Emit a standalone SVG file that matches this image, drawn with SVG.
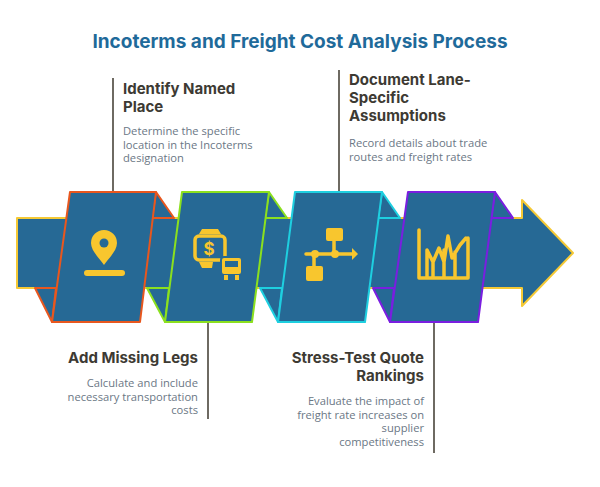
<svg xmlns="http://www.w3.org/2000/svg" width="600" height="487" viewBox="0 0 600 487">
<style>
.p{fill:#266995;stroke-width:2;stroke-linejoin:round}
.t{font-family:Inter,"Open Sans",sans-serif;font-weight:700;font-size:15px;fill:#3d3a33}
.d{font-family:"Open Sans",Inter,sans-serif;font-size:11.2px;fill:#6b7785}
.ln{stroke:#6e6a62;stroke-width:2}
.ic{fill:#f8c62e}
.is{fill:none;stroke:#f8c62e;stroke-width:3.5;stroke-linecap:round;stroke-linejoin:round}
</style>
<rect width="600" height="487" fill="#fff"/>
<text x="300" y="48" text-anchor="middle" font-family="Inter,'Open Sans',sans-serif" font-weight="700" font-size="19" fill="#1f6a9a">Incoterms and Freight Cost Analysis Process</text>
<g id="band">
<path class="p" stroke="#f5c935" d="M17 218 H522 V200 L573 253 L522 306 V288 H17 Z"/>
</g>
<g id="connectors">
<line class="ln" x1="113" y1="78" x2="113" y2="192"/>
<line class="ln" x1="339" y1="70" x2="339" y2="192"/>
<line class="ln" x1="208" y1="322" x2="208" y2="419"/>
<line class="ln" x1="434" y1="322" x2="434" y2="453"/>
</g>
<g id="step1">
<path class="p" stroke="#e8571e" d="M156 192 L174 218 H152 Z M35 288 L52 322 L56 288 Z"/>
<path class="p" stroke="#e8571e" d="M70 192 H156 L140 322 H52 Z"/>
<path class="ic" d="M104 230 a13 13 0 0 1 13 13 c0 8 -9 16 -13 22 c-4 -6 -13 -14 -13 -22 a13 13 0 0 1 13 -13 Z"/>
<circle cx="104" cy="243" r="4.5" fill="#266995"/>
<rect x="84" y="270" width="41" height="6" rx="3" class="ic"/>
</g>
<g id="step2">
<path class="p" stroke="#8be01e" d="M269 192 L287 218 H265 Z M147 288 L165 322 L169 288 Z"/>
<path class="p" stroke="#8be01e" d="M182 192 H269 L252 322 H165 Z"/>
<rect x="195" y="236" width="30" height="24" rx="4" class="is"/>
<path class="ic" d="M202 229 H218 L221 234 H199 Z M199 262 H213 L212 268 H202 Z"/>
<text x="209" y="255" text-anchor="middle" font-family="Inter,sans-serif" font-weight="700" font-size="17" fill="#f8c62e">$</text>
<rect x="221" y="257" width="21" height="18" rx="3" class="ic" stroke="#266995" stroke-width="2"/>
<rect x="225" y="261" width="13" height="6" fill="#266995"/>
<rect x="224" y="275" width="4" height="5" class="ic"/><rect x="235" y="275" width="4" height="5" class="ic"/>
</g>
<g id="step3">
<path class="p" stroke="#1ecfe0" d="M382 192 L400 218 H378 Z M260 288 L278 322 L282 288 Z"/>
<path class="p" stroke="#1ecfe0" d="M295 192 H382 L365 322 H278 Z"/>
<rect x="326" y="228" width="17" height="13" rx="2" class="ic"/>
<rect x="306" y="266" width="17" height="15" rx="2" class="ic"/>
<path class="is" d="M306 254 H354 M334 241 V254 M314 254 V266"/>
<circle cx="315" cy="254" r="4" class="ic"/><circle cx="335" cy="254" r="4" class="ic"/>
<path class="ic" d="M352 248 L358 254 L352 260 Z"/>
</g>
<g id="step4">
<path class="p" stroke="#7a1ee0" d="M495 192 L513 218 H491 Z M373 288 L390 322 L394 288 Z"/>
<path class="p" stroke="#7a1ee0" d="M408 192 H495 L478 322 H390 Z"/>
<path class="is" d="M419 230 V278 H468 V238 M427 278 V250 L433 262 L439 248 L444 262 L448 236 L452 258 L460 245 L466 238 M433 278 V262 M444 278 V250 M455 278 V252"/>
</g>
<g id="label1">
<text class="t" x="123" y="94">Identify Named</text>
<text class="t" x="123" y="112">Place</text>
<text class="d" x="123" y="135">Determine the specific</text>
<text class="d" x="123" y="148.5">location in the Incoterms</text>
<text class="d" x="123" y="162">designation</text>
</g>
<g id="label2">
<text class="t" x="349" y="85">Document Lane-</text>
<text class="t" x="349" y="103">Specific</text>
<text class="t" x="349" y="121">Assumptions</text>
<text class="d" x="349" y="147">Record details about trade</text>
<text class="d" x="349" y="160.5">routes and freight rates</text>
</g>
<g id="label3" text-anchor="end">
<text class="t" x="198" y="363">Add Missing Legs</text>
<text class="d" x="198" y="387">Calculate and include</text>
<text class="d" x="198" y="400.5">necessary transportation</text>
<text class="d" x="198" y="414">costs</text>
</g>
<g id="label4" text-anchor="end">
<text class="t" x="424" y="363">Stress-Test Quote</text>
<text class="t" x="424" y="381">Rankings</text>
<text class="d" x="424" y="405">Evaluate the impact of</text>
<text class="d" x="424" y="418.5">freight rate increases on</text>
<text class="d" x="424" y="432">supplier</text>
<text class="d" x="424" y="445.5">competitiveness</text>
</g>
</svg>
